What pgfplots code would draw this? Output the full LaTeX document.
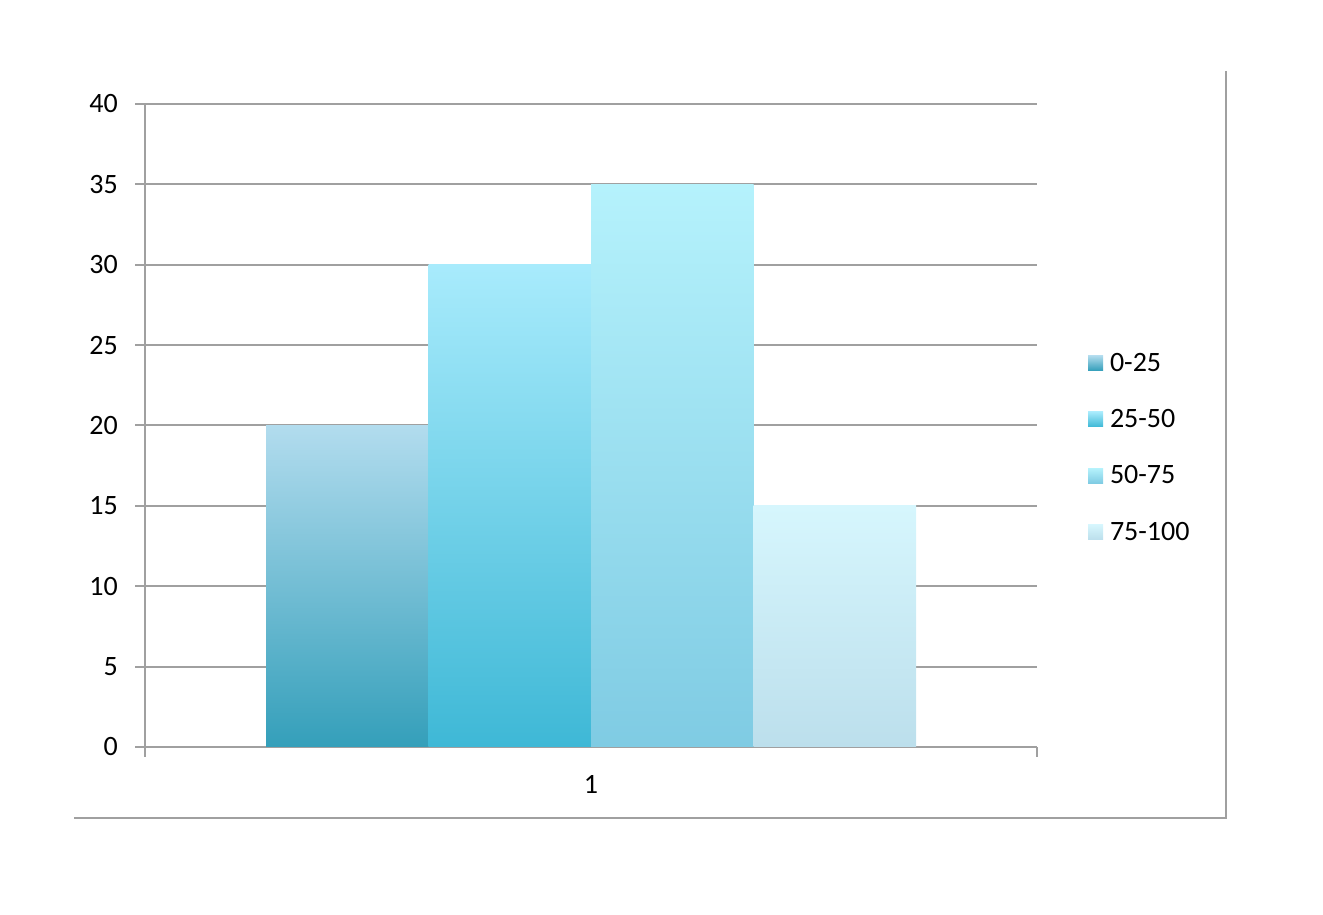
\documentclass[border=0pt]{standalone}
\usepackage{pgfplots}
\pgfplotsset{compat=1.18}
\usepackage{fontspec}
\setmainfont{Carlito}
\definecolor{gridgray}{HTML}{A0A0A0}
\definecolor{aT}{HTML}{B2DCEE}\definecolor{aB}{HTML}{349FBA}
\definecolor{bT}{HTML}{A8EBFC}\definecolor{bB}{HTML}{3EB8D6}
\definecolor{cT}{HTML}{B5F2FC}\definecolor{cB}{HTML}{7FCBE3}
\definecolor{dT}{HTML}{D6F6FD}\definecolor{dB}{HTML}{BCDFEC}
\begin{document}
\fontsize{14pt}{16pt}\selectfont
\begin{tikzpicture}
\path[use as bounding box] (0,0) rectangle (661.5pt,457.5pt);
\begin{scope}[x=0.5pt,y=-0.5pt,yshift=457.5pt]
\draw[gridgray,line width=1pt] (1226,71) -- (1226,818) -- (74,818);
\end{scope}
\begin{axis}[
  at={(72.5pt,84pt)}, anchor=origin,
  scale only axis, width=446pt, height=321.5pt,
  ybar=0pt, bar width=81.25pt,
  xmin=0.5, xmax=1.5, ymin=0, ymax=40,
  ytick={0,5,...,40},
  xtick={0.5,1.5}, xticklabels={},
  extra x ticks={1}, extra x tick labels={1},
  extra x tick style={major tick length=0pt, tick style={draw=none}},
  x tick style={gridgray, line width=1pt},
  xtick align=outside,
  x tick style={/pgfplots/major tick length=5pt},
  axis x line*=bottom, axis y line*=left,
  axis line style={gridgray, line width=1pt, -},
  ymajorgrids, grid style={gridgray, line width=1pt},
  tick align=outside,
  y tick style={gridgray, line width=1pt, /pgfplots/major tick length=5pt},
  /pgf/number format/assume math mode=true,
  tick label style={font=\fontsize{14pt}{16pt}\selectfont, text=black},
  yticklabel style={xshift=-4.5pt},
  xticklabel style={yshift=-9.5pt},
  legend style={draw=none, fill=none, at={(1.05,0.464)}, anchor=west,
    font=\fontsize{14pt}{16pt}\selectfont, row sep=13pt,
    /tikz/every odd column/.append style={column sep=1.5pt}},
  legend cell align=left,
  legend image code/.code={\path[#1] (0pt,-3.2pt) rectangle (7.5pt,4.3pt);},
]
\addplot[draw=none, top color=aT, bottom color=aB, shading=axis] coordinates {(1,20)};
\addplot[draw=none, top color=bT, bottom color=bB, shading=axis] coordinates {(1,30)};
\addplot[draw=none, top color=cT, bottom color=cB, shading=axis] coordinates {(1,35)};
\addplot[draw=none, top color=dT, bottom color=dB, shading=axis] coordinates {(1,15)};
\legend{0-25,25-50,50-75,75-100}
\end{axis}
\end{tikzpicture}
\end{document}
